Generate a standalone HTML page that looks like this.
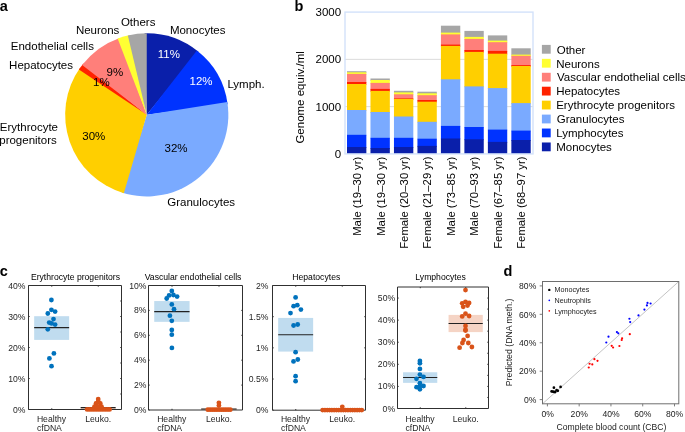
<!DOCTYPE html>
<html><head><meta charset="utf-8"><style>
html,body{margin:0;padding:0;background:#fff;}
body{width:685px;height:432px;overflow:hidden;}
svg{display:block;will-change:transform;font-family:"Liberation Sans", sans-serif;}
</style></head><body>
<svg width="685" height="432" viewBox="0 0 685 432" font-family='"Liberation Sans", sans-serif'>
<rect width="685" height="432" fill="#fff"/>
<text x="-0.30" y="10.50" font-size="14.5" fill="#000" font-weight="bold">a</text>
<text x="294.40" y="10.60" font-size="14.5" fill="#000" font-weight="bold">b</text>
<text x="-0.30" y="276.00" font-size="14.5" fill="#000" font-weight="bold">c</text>
<text x="503.50" y="276.00" font-size="14.5" fill="#000" font-weight="bold">d</text>
<path d="M146.75,114.85 L144.614,33.278 A81.6,81.6 0 0 1 198.544,51.795 Z" fill="#0a1faa"/>
<path d="M146.75,114.85 L196.876,50.461 A81.6,81.6 0 0 1 227.652,104.199 Z" fill="#0033ff"/>
<path d="M146.75,114.85 L227.345,102.085 A81.6,81.6 0 0 1 121.805,192.544 Z" fill="#7aaaff"/>
<path d="M146.75,114.85 L123.848,193.170 A81.6,81.6 0 0 1 80.071,67.813 Z" fill="#ffcf00"/>
<path d="M146.75,114.85 L78.863,69.575 A81.6,81.6 0 0 1 83.425,63.387 Z" fill="#ff2200"/>
<path d="M146.75,114.85 L82.099,65.062 A81.6,81.6 0 0 1 119.646,37.883 Z" fill="#ff7f7a"/>
<path d="M146.75,114.85 L117.640,38.619 A81.6,81.6 0 0 1 129.924,35.004 Z" fill="#ffff33"/>
<path d="M146.75,114.85 L127.839,35.471 A81.6,81.6 0 0 1 146.750,33.250 Z" fill="#a6a6a6"/>
<text x="120.90" y="25.85" font-size="11.5" fill="#000">Others</text>
<text x="75.90" y="33.80" font-size="11.5" fill="#000">Neurons</text>
<text x="169.90" y="34.30" font-size="11.5" fill="#000">Monocytes</text>
<text x="10.80" y="49.85" font-size="11.5" fill="#000">Endothelial cells</text>
<text x="9.10" y="68.80" font-size="11.5" fill="#000">Hepatocytes</text>
<text x="227.40" y="88.05" font-size="11.5" fill="#000">Lymph.</text>
<text x="-0.20" y="130.55" font-size="11.5" fill="#000">Erythrocyte</text>
<text x="-0.75" y="143.55" font-size="11.5" fill="#000">progenitors</text>
<text x="167.30" y="205.55" font-size="11.5" fill="#000">Granulocytes</text>
<text x="157.70" y="58.30" font-size="11.5" fill="#fff">11%</text>
<text x="189.50" y="85.10" font-size="11.5" fill="#fff">12%</text>
<text x="164.50" y="152.20" font-size="11.5" fill="#000">32%</text>
<text x="82.30" y="139.60" font-size="11.5" fill="#000">30%</text>
<text x="106.60" y="75.80" font-size="11.5" fill="#000">9%</text>
<text x="93.00" y="85.60" font-size="11.5" fill="#000">1%</text>
<line x1="345.0" x2="533.0" y1="106.63" y2="106.63" stroke="#dcdcdc" stroke-width="1"/>
<line x1="345.0" x2="533.0" y1="59.37" y2="59.37" stroke="#dcdcdc" stroke-width="1"/>
<rect x="347.00" y="71.20" width="19.35" height="1.90" fill="#a6a6a6"/>
<rect x="347.00" y="72.30" width="19.35" height="2.40" fill="#ffff33"/>
<rect x="347.00" y="73.90" width="19.35" height="8.90" fill="#ff7f7a"/>
<rect x="347.00" y="82.00" width="19.35" height="2.80" fill="#ff2200"/>
<rect x="347.00" y="84.00" width="19.35" height="26.80" fill="#ffcf00"/>
<rect x="347.00" y="110.00" width="19.35" height="25.60" fill="#7aaaff"/>
<rect x="347.00" y="134.80" width="19.35" height="13.00" fill="#0033ff"/>
<rect x="347.00" y="147.00" width="19.35" height="6.90" fill="#0a1faa"/>
<rect x="370.48" y="78.50" width="19.35" height="2.30" fill="#a6a6a6"/>
<rect x="370.48" y="80.00" width="19.35" height="3.70" fill="#ffff33"/>
<rect x="370.48" y="82.90" width="19.35" height="6.80" fill="#ff7f7a"/>
<rect x="370.48" y="88.90" width="19.35" height="2.80" fill="#ff2200"/>
<rect x="370.48" y="90.90" width="19.35" height="21.90" fill="#ffcf00"/>
<rect x="370.48" y="112.00" width="19.35" height="26.60" fill="#7aaaff"/>
<rect x="370.48" y="137.80" width="19.35" height="11.00" fill="#0033ff"/>
<rect x="370.48" y="148.00" width="19.35" height="5.90" fill="#0a1faa"/>
<rect x="393.96" y="90.80" width="19.35" height="2.40" fill="#a6a6a6"/>
<rect x="393.96" y="92.40" width="19.35" height="2.70" fill="#ffff33"/>
<rect x="393.96" y="94.30" width="19.35" height="4.90" fill="#ff7f7a"/>
<rect x="393.96" y="98.40" width="19.35" height="1.30" fill="#ff2200"/>
<rect x="393.96" y="98.90" width="19.35" height="18.40" fill="#ffcf00"/>
<rect x="393.96" y="116.50" width="19.35" height="22.10" fill="#7aaaff"/>
<rect x="393.96" y="137.80" width="19.35" height="10.00" fill="#0033ff"/>
<rect x="393.96" y="147.00" width="19.35" height="6.90" fill="#0a1faa"/>
<rect x="417.44" y="91.70" width="19.35" height="2.40" fill="#a6a6a6"/>
<rect x="417.44" y="93.30" width="19.35" height="2.70" fill="#ffff33"/>
<rect x="417.44" y="95.20" width="19.35" height="5.60" fill="#ff7f7a"/>
<rect x="417.44" y="100.00" width="19.35" height="2.50" fill="#ff2200"/>
<rect x="417.44" y="101.70" width="19.35" height="20.90" fill="#ffcf00"/>
<rect x="417.44" y="121.80" width="19.35" height="17.70" fill="#7aaaff"/>
<rect x="417.44" y="138.70" width="19.35" height="8.00" fill="#0033ff"/>
<rect x="417.44" y="145.90" width="19.35" height="8.00" fill="#0a1faa"/>
<rect x="440.92" y="25.70" width="19.35" height="7.70" fill="#a6a6a6"/>
<rect x="440.92" y="32.60" width="19.35" height="2.60" fill="#ffff33"/>
<rect x="440.92" y="34.40" width="19.35" height="11.00" fill="#ff7f7a"/>
<rect x="440.92" y="44.60" width="19.35" height="2.10" fill="#ff2200"/>
<rect x="440.92" y="45.90" width="19.35" height="34.20" fill="#ffcf00"/>
<rect x="440.92" y="79.30" width="19.35" height="47.40" fill="#7aaaff"/>
<rect x="440.92" y="125.90" width="19.35" height="13.40" fill="#0033ff"/>
<rect x="440.92" y="138.50" width="19.35" height="15.40" fill="#0a1faa"/>
<rect x="464.40" y="30.90" width="19.35" height="6.80" fill="#a6a6a6"/>
<rect x="464.40" y="36.90" width="19.35" height="2.80" fill="#ffff33"/>
<rect x="464.40" y="38.90" width="19.35" height="11.90" fill="#ff7f7a"/>
<rect x="464.40" y="50.00" width="19.35" height="2.70" fill="#ff2200"/>
<rect x="464.40" y="51.90" width="19.35" height="35.30" fill="#ffcf00"/>
<rect x="464.40" y="86.40" width="19.35" height="41.40" fill="#7aaaff"/>
<rect x="464.40" y="127.00" width="19.35" height="13.10" fill="#0033ff"/>
<rect x="464.40" y="139.30" width="19.35" height="14.60" fill="#0a1faa"/>
<rect x="487.88" y="35.40" width="19.35" height="6.00" fill="#a6a6a6"/>
<rect x="487.88" y="40.60" width="19.35" height="2.40" fill="#ffff33"/>
<rect x="487.88" y="42.20" width="19.35" height="9.50" fill="#ff7f7a"/>
<rect x="487.88" y="50.90" width="19.35" height="3.60" fill="#ff2200"/>
<rect x="487.88" y="53.70" width="19.35" height="35.20" fill="#ffcf00"/>
<rect x="487.88" y="88.10" width="19.35" height="42.30" fill="#7aaaff"/>
<rect x="487.88" y="129.60" width="19.35" height="13.10" fill="#0033ff"/>
<rect x="487.88" y="141.90" width="19.35" height="12.00" fill="#0a1faa"/>
<rect x="511.36" y="48.30" width="19.35" height="7.10" fill="#a6a6a6"/>
<rect x="511.36" y="54.60" width="19.35" height="2.00" fill="#ffff33"/>
<rect x="511.36" y="55.80" width="19.35" height="10.10" fill="#ff7f7a"/>
<rect x="511.36" y="65.10" width="19.35" height="1.70" fill="#ff2200"/>
<rect x="511.36" y="66.00" width="19.35" height="37.90" fill="#ffcf00"/>
<rect x="511.36" y="103.10" width="19.35" height="28.30" fill="#7aaaff"/>
<rect x="511.36" y="130.60" width="19.35" height="10.20" fill="#0033ff"/>
<rect x="511.36" y="140.00" width="19.35" height="13.90" fill="#0a1faa"/>
<rect x="345.0" y="12.1" width="188.0" height="141.8" fill="none" stroke="#d3e2fa" stroke-width="1.4"/>
<text x="334.80" y="157.90" font-size="11.5" fill="#000">0</text>
<text x="315.55" y="110.63" font-size="11.5" fill="#000">1000</text>
<text x="315.55" y="63.37" font-size="11.5" fill="#000">2000</text>
<text x="315.55" y="16.10" font-size="11.5" fill="#000">3000</text>
<text x="304.25" y="143.60" font-size="11.5" fill="#000" transform="rotate(-90 304.25 143.60)">Genome equiv./ml</text>
<text x="361.03" y="235.80" font-size="11.3" fill="#000" transform="rotate(-90 361.03 235.80)">Male (19–30 yr)</text>
<text x="384.51" y="235.80" font-size="11.3" fill="#000" transform="rotate(-90 384.51 235.80)">Male (19–30 yr)</text>
<text x="407.99" y="248.80" font-size="11.3" fill="#000" transform="rotate(-90 407.99 248.80)">Female (20–30 yr)</text>
<text x="431.47" y="248.80" font-size="11.3" fill="#000" transform="rotate(-90 431.47 248.80)">Female (21–29 yr)</text>
<text x="454.95" y="235.80" font-size="11.3" fill="#000" transform="rotate(-90 454.95 235.80)">Male (73–85 yr)</text>
<text x="478.43" y="235.80" font-size="11.3" fill="#000" transform="rotate(-90 478.43 235.80)">Male (70–93 yr)</text>
<text x="501.91" y="248.80" font-size="11.3" fill="#000" transform="rotate(-90 501.91 248.80)">Female (67–85 yr)</text>
<text x="525.38" y="248.80" font-size="11.3" fill="#000" transform="rotate(-90 525.38 248.80)">Female (68–97 yr)</text>
<rect x="541.9" y="44.90" width="8.8" height="8.8" fill="#a6a6a6"/>
<text x="556.70" y="53.60" font-size="11.5" fill="#000">Other</text>
<rect x="541.9" y="58.84" width="8.8" height="8.8" fill="#ffff33"/>
<text x="556.20" y="67.54" font-size="11.5" fill="#000">Neurons</text>
<rect x="541.9" y="72.78" width="8.8" height="8.8" fill="#ff7f7a"/>
<text x="556.95" y="81.48" font-size="11.5" fill="#000">Vascular endothelial cells</text>
<rect x="541.9" y="86.72" width="8.8" height="8.8" fill="#ff2200"/>
<text x="556.20" y="95.42" font-size="11.5" fill="#000">Hepatocytes</text>
<rect x="541.9" y="100.66" width="8.8" height="8.8" fill="#ffcf00"/>
<text x="556.20" y="109.36" font-size="11.5" fill="#000">Erythrocyte progenitors</text>
<rect x="541.9" y="114.60" width="8.8" height="8.8" fill="#7aaaff"/>
<text x="556.70" y="123.30" font-size="11.5" fill="#000">Granulocytes</text>
<rect x="541.9" y="128.54" width="8.8" height="8.8" fill="#0033ff"/>
<text x="556.20" y="137.24" font-size="11.5" fill="#000">Lymphocytes</text>
<rect x="541.9" y="142.48" width="8.8" height="8.8" fill="#0a1faa"/>
<text x="556.20" y="151.18" font-size="11.5" fill="#000">Monocytes</text>
<rect x="34.17" y="316.19" width="34.97" height="23.71" fill="#c0dcef"/>
<rect x="80.67" y="407.33" width="34.97" height="2.17" fill="#f5d4c5"/>
<line x1="34.17" x2="69.14" y1="327.66" y2="327.66" stroke="#222" stroke-width="1.1"/>
<line x1="80.67" x2="115.64" y1="407.64" y2="407.64" stroke="#222" stroke-width="1.1"/>
<path d="M28.5,285.5 H121.5 V409.5 H28.5 Z" fill="none" stroke="#303030" stroke-width="1.0"/>
<line x1="28.5" x2="29.7" y1="409.50" y2="409.50" stroke="#303030" stroke-width="1.0"/>
<text x="12.90" y="412.50" font-size="8.65" fill="#262626">0%</text>
<line x1="28.5" x2="29.7" y1="378.50" y2="378.50" stroke="#303030" stroke-width="1.0"/>
<text x="8.15" y="381.50" font-size="8.65" fill="#262626">10%</text>
<line x1="28.5" x2="29.7" y1="347.50" y2="347.50" stroke="#303030" stroke-width="1.0"/>
<text x="8.15" y="350.50" font-size="8.65" fill="#262626">20%</text>
<line x1="28.5" x2="29.7" y1="316.50" y2="316.50" stroke="#303030" stroke-width="1.0"/>
<text x="8.15" y="319.50" font-size="8.65" fill="#262626">30%</text>
<line x1="28.5" x2="29.7" y1="285.50" y2="285.50" stroke="#303030" stroke-width="1.0"/>
<text x="8.15" y="288.50" font-size="8.65" fill="#262626">40%</text>
<line x1="121.5" x2="120.3" y1="394.00" y2="394.00" stroke="#303030" stroke-width="1.0"/>
<line x1="121.5" x2="120.3" y1="378.50" y2="378.50" stroke="#303030" stroke-width="1.0"/>
<line x1="121.5" x2="120.3" y1="363.00" y2="363.00" stroke="#303030" stroke-width="1.0"/>
<line x1="121.5" x2="120.3" y1="347.50" y2="347.50" stroke="#303030" stroke-width="1.0"/>
<line x1="121.5" x2="120.3" y1="332.00" y2="332.00" stroke="#303030" stroke-width="1.0"/>
<line x1="121.5" x2="120.3" y1="316.50" y2="316.50" stroke="#303030" stroke-width="1.0"/>
<line x1="121.5" x2="120.3" y1="301.00" y2="301.00" stroke="#303030" stroke-width="1.0"/>
<line x1="51.75" x2="51.75" y1="409.5" y2="408.3" stroke="#303030" stroke-width="1.0"/>
<line x1="51.75" x2="51.75" y1="285.5" y2="286.7" stroke="#303030" stroke-width="1.0"/>
<line x1="98.25" x2="98.25" y1="409.5" y2="408.3" stroke="#303030" stroke-width="1.0"/>
<line x1="98.25" x2="98.25" y1="285.5" y2="286.7" stroke="#303030" stroke-width="1.0"/>
<circle cx="51.4" cy="300.0" r="2.4" fill="#0072bd"/>
<circle cx="51.4" cy="309.8" r="2.4" fill="#0072bd"/>
<circle cx="55.1" cy="311.6" r="2.4" fill="#0072bd"/>
<circle cx="47.8" cy="313.5" r="2.4" fill="#0072bd"/>
<circle cx="53.5" cy="319.1" r="2.4" fill="#0072bd"/>
<circle cx="49.2" cy="322.6" r="2.4" fill="#0072bd"/>
<circle cx="51.6" cy="323.4" r="2.4" fill="#0072bd"/>
<circle cx="55.1" cy="324.6" r="2.4" fill="#0072bd"/>
<circle cx="47.8" cy="329.3" r="2.4" fill="#0072bd"/>
<circle cx="53.9" cy="353.4" r="2.4" fill="#0072bd"/>
<circle cx="49.4" cy="358.4" r="2.4" fill="#0072bd"/>
<circle cx="51.5" cy="366.2" r="2.4" fill="#0072bd"/>
<circle cx="87.1" cy="409.4" r="2.4" fill="#d95319"/>
<circle cx="89.35" cy="409.4" r="2.4" fill="#d95319"/>
<circle cx="91.6" cy="409.4" r="2.4" fill="#d95319"/>
<circle cx="93.85" cy="409.4" r="2.4" fill="#d95319"/>
<circle cx="96.1" cy="409.4" r="2.4" fill="#d95319"/>
<circle cx="98.35" cy="409.4" r="2.4" fill="#d95319"/>
<circle cx="100.6" cy="409.4" r="2.4" fill="#d95319"/>
<circle cx="102.85" cy="409.4" r="2.4" fill="#d95319"/>
<circle cx="105.1" cy="409.4" r="2.4" fill="#d95319"/>
<circle cx="107.35" cy="409.4" r="2.4" fill="#d95319"/>
<circle cx="109.6" cy="409.4" r="2.4" fill="#d95319"/>
<circle cx="98.2" cy="399.1" r="2.4" fill="#d95319"/>
<circle cx="98.2" cy="401.3" r="2.4" fill="#d95319"/>
<circle cx="96.0" cy="403.4" r="2.4" fill="#d95319"/>
<circle cx="100.3" cy="403.4" r="2.4" fill="#d95319"/>
<circle cx="94.5" cy="406.6" r="2.4" fill="#d95319"/>
<circle cx="96.7" cy="406.6" r="2.4" fill="#d95319"/>
<circle cx="98.9" cy="406.6" r="2.4" fill="#d95319"/>
<circle cx="101.5" cy="406.6" r="2.4" fill="#d95319"/>
<text x="30.88" y="279.70" font-size="8.65" fill="#000">Erythrocyte progenitors</text>
<text x="36.90" y="421.70" font-size="8.65" fill="#262626">Healthy</text>
<text x="36.95" y="431.30" font-size="8.65" fill="#262626">cfDNA</text>
<text x="85.25" y="421.70" font-size="8.65" fill="#262626">Leuko.</text>
<rect x="154.23" y="301.06" width="35.34" height="20.79" fill="#c0dcef"/>
<rect x="201.23" y="408.51" width="35.34" height="1.49" fill="#f5d4c5"/>
<line x1="154.23" x2="189.58" y1="311.64" y2="311.64" stroke="#222" stroke-width="1.1"/>
<line x1="201.23" x2="236.58" y1="409.00" y2="409.00" stroke="#222" stroke-width="1.1"/>
<path d="M148.5,285.5 H242.5 V410.0 H148.5 Z" fill="none" stroke="#303030" stroke-width="1.0"/>
<line x1="148.5" x2="149.7" y1="410.00" y2="410.00" stroke="#303030" stroke-width="1.0"/>
<text x="133.90" y="413.00" font-size="8.65" fill="#262626">0%</text>
<line x1="148.5" x2="149.7" y1="385.10" y2="385.10" stroke="#303030" stroke-width="1.0"/>
<text x="133.90" y="388.10" font-size="8.65" fill="#262626">2%</text>
<line x1="148.5" x2="149.7" y1="360.20" y2="360.20" stroke="#303030" stroke-width="1.0"/>
<text x="133.90" y="363.20" font-size="8.65" fill="#262626">4%</text>
<line x1="148.5" x2="149.7" y1="335.30" y2="335.30" stroke="#303030" stroke-width="1.0"/>
<text x="133.90" y="338.30" font-size="8.65" fill="#262626">6%</text>
<line x1="148.5" x2="149.7" y1="310.40" y2="310.40" stroke="#303030" stroke-width="1.0"/>
<text x="133.90" y="313.40" font-size="8.65" fill="#262626">8%</text>
<line x1="148.5" x2="149.7" y1="285.50" y2="285.50" stroke="#303030" stroke-width="1.0"/>
<text x="129.15" y="288.50" font-size="8.65" fill="#262626">10%</text>
<line x1="242.5" x2="241.3" y1="385.10" y2="385.10" stroke="#303030" stroke-width="1.0"/>
<line x1="242.5" x2="241.3" y1="360.20" y2="360.20" stroke="#303030" stroke-width="1.0"/>
<line x1="242.5" x2="241.3" y1="335.30" y2="335.30" stroke="#303030" stroke-width="1.0"/>
<line x1="242.5" x2="241.3" y1="310.40" y2="310.40" stroke="#303030" stroke-width="1.0"/>
<line x1="172.00" x2="172.00" y1="410.0" y2="408.8" stroke="#303030" stroke-width="1.0"/>
<line x1="172.00" x2="172.00" y1="285.5" y2="286.7" stroke="#303030" stroke-width="1.0"/>
<line x1="219.00" x2="219.00" y1="410.0" y2="408.8" stroke="#303030" stroke-width="1.0"/>
<line x1="219.00" x2="219.00" y1="285.5" y2="286.7" stroke="#303030" stroke-width="1.0"/>
<circle cx="171.8" cy="290.9" r="2.4" fill="#0072bd"/>
<circle cx="169.1" cy="295.4" r="2.4" fill="#0072bd"/>
<circle cx="173.4" cy="295.0" r="2.4" fill="#0072bd"/>
<circle cx="177.1" cy="296.6" r="2.4" fill="#0072bd"/>
<circle cx="166.7" cy="298.5" r="2.4" fill="#0072bd"/>
<circle cx="171.8" cy="304.4" r="2.4" fill="#0072bd"/>
<circle cx="174.0" cy="309.2" r="2.4" fill="#0072bd"/>
<circle cx="169.9" cy="315.7" r="2.4" fill="#0072bd"/>
<circle cx="171.8" cy="320.8" r="2.4" fill="#0072bd"/>
<circle cx="171.8" cy="330.0" r="2.4" fill="#0072bd"/>
<circle cx="171.8" cy="334.7" r="2.4" fill="#0072bd"/>
<circle cx="171.9" cy="347.9" r="2.4" fill="#0072bd"/>
<circle cx="207.8" cy="409.7" r="2.4" fill="#d95319"/>
<circle cx="210.05" cy="409.7" r="2.4" fill="#d95319"/>
<circle cx="212.3" cy="409.7" r="2.4" fill="#d95319"/>
<circle cx="214.55" cy="409.7" r="2.4" fill="#d95319"/>
<circle cx="216.8" cy="409.7" r="2.4" fill="#d95319"/>
<circle cx="219.05" cy="409.7" r="2.4" fill="#d95319"/>
<circle cx="221.3" cy="409.7" r="2.4" fill="#d95319"/>
<circle cx="223.55" cy="409.7" r="2.4" fill="#d95319"/>
<circle cx="225.8" cy="409.7" r="2.4" fill="#d95319"/>
<circle cx="228.05" cy="409.7" r="2.4" fill="#d95319"/>
<circle cx="230.3" cy="409.7" r="2.4" fill="#d95319"/>
<circle cx="218.9" cy="402.8" r="2.4" fill="#d95319"/>
<circle cx="218.9" cy="405.6" r="2.4" fill="#d95319"/>
<text x="144.72" y="279.70" font-size="8.65" fill="#000">Vascular endothelial cells</text>
<text x="157.15" y="421.70" font-size="8.65" fill="#262626">Healthy</text>
<text x="157.20" y="431.30" font-size="8.65" fill="#262626">cfDNA</text>
<text x="206.00" y="421.70" font-size="8.65" fill="#262626">Leuko.</text>
<rect x="278.17" y="317.92" width="34.97" height="33.67" fill="#c0dcef"/>
<rect x="324.67" y="409.58" width="34.97" height="0.62" fill="#f5d4c5"/>
<line x1="278.17" x2="313.14" y1="334.76" y2="334.76" stroke="#222" stroke-width="1.1"/>
<line x1="324.67" x2="359.64" y1="409.89" y2="409.89" stroke="#222" stroke-width="1.1"/>
<path d="M272.5,285.5 H365.5 V410.2 H272.5 Z" fill="none" stroke="#303030" stroke-width="1.0"/>
<line x1="272.5" x2="273.7" y1="410.20" y2="410.20" stroke="#303030" stroke-width="1.0"/>
<text x="256.00" y="413.20" font-size="8.65" fill="#262626">0%</text>
<line x1="272.5" x2="273.7" y1="379.02" y2="379.02" stroke="#303030" stroke-width="1.0"/>
<text x="248.75" y="382.02" font-size="8.65" fill="#262626">0.5%</text>
<line x1="272.5" x2="273.7" y1="347.85" y2="347.85" stroke="#303030" stroke-width="1.0"/>
<text x="256.00" y="350.85" font-size="8.65" fill="#262626">1%</text>
<line x1="272.5" x2="273.7" y1="316.68" y2="316.68" stroke="#303030" stroke-width="1.0"/>
<text x="248.75" y="319.68" font-size="8.65" fill="#262626">1.5%</text>
<line x1="272.5" x2="273.7" y1="285.50" y2="285.50" stroke="#303030" stroke-width="1.0"/>
<text x="256.00" y="288.50" font-size="8.65" fill="#262626">2%</text>
<line x1="365.5" x2="364.3" y1="379.02" y2="379.02" stroke="#303030" stroke-width="1.0"/>
<line x1="365.5" x2="364.3" y1="347.85" y2="347.85" stroke="#303030" stroke-width="1.0"/>
<line x1="365.5" x2="364.3" y1="316.68" y2="316.68" stroke="#303030" stroke-width="1.0"/>
<line x1="295.75" x2="295.75" y1="410.2" y2="409.0" stroke="#303030" stroke-width="1.0"/>
<line x1="295.75" x2="295.75" y1="285.5" y2="286.7" stroke="#303030" stroke-width="1.0"/>
<line x1="342.25" x2="342.25" y1="410.2" y2="409.0" stroke="#303030" stroke-width="1.0"/>
<line x1="342.25" x2="342.25" y1="285.5" y2="286.7" stroke="#303030" stroke-width="1.0"/>
<circle cx="295.6" cy="297.4" r="2.4" fill="#0072bd"/>
<circle cx="293.6" cy="306.2" r="2.4" fill="#0072bd"/>
<circle cx="297.3" cy="305.2" r="2.4" fill="#0072bd"/>
<circle cx="300.9" cy="309.6" r="2.4" fill="#0072bd"/>
<circle cx="290.5" cy="313.1" r="2.4" fill="#0072bd"/>
<circle cx="293.6" cy="325.5" r="2.4" fill="#0072bd"/>
<circle cx="297.7" cy="324.5" r="2.4" fill="#0072bd"/>
<circle cx="295.6" cy="352.2" r="2.4" fill="#0072bd"/>
<circle cx="293.5" cy="361.4" r="2.4" fill="#0072bd"/>
<circle cx="297.8" cy="359.5" r="2.4" fill="#0072bd"/>
<circle cx="295.6" cy="376.2" r="2.4" fill="#0072bd"/>
<circle cx="295.6" cy="381.2" r="2.4" fill="#0072bd"/>
<circle cx="322.65" cy="410.1" r="2.4" fill="#d95319"/>
<circle cx="324.95" cy="410.1" r="2.4" fill="#d95319"/>
<circle cx="327.25" cy="410.1" r="2.4" fill="#d95319"/>
<circle cx="329.55" cy="410.1" r="2.4" fill="#d95319"/>
<circle cx="331.85" cy="410.1" r="2.4" fill="#d95319"/>
<circle cx="334.15" cy="410.1" r="2.4" fill="#d95319"/>
<circle cx="336.45" cy="410.1" r="2.4" fill="#d95319"/>
<circle cx="338.75" cy="410.1" r="2.4" fill="#d95319"/>
<circle cx="341.05" cy="410.1" r="2.4" fill="#d95319"/>
<circle cx="343.35" cy="410.1" r="2.4" fill="#d95319"/>
<circle cx="345.65" cy="410.1" r="2.4" fill="#d95319"/>
<circle cx="347.95" cy="410.1" r="2.4" fill="#d95319"/>
<circle cx="350.25" cy="410.1" r="2.4" fill="#d95319"/>
<circle cx="352.55" cy="410.1" r="2.4" fill="#d95319"/>
<circle cx="354.85" cy="410.1" r="2.4" fill="#d95319"/>
<circle cx="357.15" cy="410.1" r="2.4" fill="#d95319"/>
<circle cx="359.45" cy="410.1" r="2.4" fill="#d95319"/>
<circle cx="361.75" cy="410.1" r="2.4" fill="#d95319"/>
<circle cx="342.3" cy="406.8" r="2.4" fill="#d95319"/>
<text x="292.30" y="279.70" font-size="8.65" fill="#000">Hepatocytes</text>
<text x="280.90" y="421.70" font-size="8.65" fill="#262626">Healthy</text>
<text x="280.95" y="431.30" font-size="8.65" fill="#262626">cfDNA</text>
<text x="329.25" y="421.70" font-size="8.65" fill="#262626">Leuko.</text>
<rect x="403.05" y="372.27" width="34.22" height="10.60" fill="#c0dcef"/>
<rect x="448.55" y="314.90" width="34.22" height="17.21" fill="#f5d4c5"/>
<line x1="403.05" x2="437.27" y1="377.57" y2="377.57" stroke="#222" stroke-width="1.1"/>
<line x1="448.55" x2="482.77" y1="323.56" y2="323.56" stroke="#222" stroke-width="1.1"/>
<path d="M397.5,287.0 H488.5 V408.5 H397.5 Z" fill="none" stroke="#303030" stroke-width="1.0"/>
<line x1="397.5" x2="398.7" y1="408.50" y2="408.50" stroke="#303030" stroke-width="1.0"/>
<text x="382.60" y="411.50" font-size="8.65" fill="#262626">0%</text>
<line x1="397.5" x2="398.7" y1="386.41" y2="386.41" stroke="#303030" stroke-width="1.0"/>
<text x="377.85" y="389.41" font-size="8.65" fill="#262626">10%</text>
<line x1="397.5" x2="398.7" y1="364.32" y2="364.32" stroke="#303030" stroke-width="1.0"/>
<text x="377.85" y="367.32" font-size="8.65" fill="#262626">20%</text>
<line x1="397.5" x2="398.7" y1="342.23" y2="342.23" stroke="#303030" stroke-width="1.0"/>
<text x="377.85" y="345.23" font-size="8.65" fill="#262626">30%</text>
<line x1="397.5" x2="398.7" y1="320.14" y2="320.14" stroke="#303030" stroke-width="1.0"/>
<text x="377.85" y="323.14" font-size="8.65" fill="#262626">40%</text>
<line x1="397.5" x2="398.7" y1="298.05" y2="298.05" stroke="#303030" stroke-width="1.0"/>
<text x="377.85" y="301.05" font-size="8.65" fill="#262626">50%</text>
<line x1="488.5" x2="487.3" y1="397.45" y2="397.45" stroke="#303030" stroke-width="1.0"/>
<line x1="488.5" x2="487.3" y1="386.41" y2="386.41" stroke="#303030" stroke-width="1.0"/>
<line x1="488.5" x2="487.3" y1="375.36" y2="375.36" stroke="#303030" stroke-width="1.0"/>
<line x1="488.5" x2="487.3" y1="364.32" y2="364.32" stroke="#303030" stroke-width="1.0"/>
<line x1="488.5" x2="487.3" y1="353.27" y2="353.27" stroke="#303030" stroke-width="1.0"/>
<line x1="488.5" x2="487.3" y1="342.23" y2="342.23" stroke="#303030" stroke-width="1.0"/>
<line x1="488.5" x2="487.3" y1="331.18" y2="331.18" stroke="#303030" stroke-width="1.0"/>
<line x1="488.5" x2="487.3" y1="320.14" y2="320.14" stroke="#303030" stroke-width="1.0"/>
<line x1="488.5" x2="487.3" y1="309.09" y2="309.09" stroke="#303030" stroke-width="1.0"/>
<line x1="488.5" x2="487.3" y1="298.05" y2="298.05" stroke="#303030" stroke-width="1.0"/>
<line x1="420.25" x2="420.25" y1="408.5" y2="407.3" stroke="#303030" stroke-width="1.0"/>
<line x1="420.25" x2="420.25" y1="287.0" y2="288.2" stroke="#303030" stroke-width="1.0"/>
<line x1="465.75" x2="465.75" y1="408.5" y2="407.3" stroke="#303030" stroke-width="1.0"/>
<line x1="465.75" x2="465.75" y1="287.0" y2="288.2" stroke="#303030" stroke-width="1.0"/>
<circle cx="419.9" cy="361.0" r="2.4" fill="#0072bd"/>
<circle cx="419.9" cy="363.3" r="2.4" fill="#0072bd"/>
<circle cx="419.9" cy="368.9" r="2.4" fill="#0072bd"/>
<circle cx="419.9" cy="374.6" r="2.4" fill="#0072bd"/>
<circle cx="423.5" cy="376.9" r="2.4" fill="#0072bd"/>
<circle cx="416.5" cy="378.8" r="2.4" fill="#0072bd"/>
<circle cx="419.9" cy="383.2" r="2.4" fill="#0072bd"/>
<circle cx="423.5" cy="386.0" r="2.4" fill="#0072bd"/>
<circle cx="416.5" cy="387.2" r="2.4" fill="#0072bd"/>
<circle cx="419.9" cy="389.3" r="2.4" fill="#0072bd"/>
<circle cx="419.9" cy="386.3" r="2.4" fill="#0072bd"/>
<circle cx="465.5" cy="290.1" r="2.4" fill="#d95319"/>
<circle cx="462.2" cy="303.3" r="2.4" fill="#d95319"/>
<circle cx="465.5" cy="301.9" r="2.4" fill="#d95319"/>
<circle cx="469.1" cy="302.9" r="2.4" fill="#d95319"/>
<circle cx="463.2" cy="306.8" r="2.4" fill="#d95319"/>
<circle cx="467.5" cy="305.6" r="2.4" fill="#d95319"/>
<circle cx="465.5" cy="313.7" r="2.4" fill="#d95319"/>
<circle cx="462.2" cy="316.4" r="2.4" fill="#d95319"/>
<circle cx="469.1" cy="316.0" r="2.4" fill="#d95319"/>
<circle cx="465.5" cy="325.9" r="2.4" fill="#d95319"/>
<circle cx="465.5" cy="329.8" r="2.4" fill="#d95319"/>
<circle cx="465.5" cy="330.5" r="2.4" fill="#d95319"/>
<circle cx="467.6" cy="335.9" r="2.4" fill="#d95319"/>
<circle cx="463.6" cy="339.9" r="2.4" fill="#d95319"/>
<circle cx="468.3" cy="343.0" r="2.4" fill="#d95319"/>
<circle cx="462.4" cy="343.0" r="2.4" fill="#d95319"/>
<circle cx="459.6" cy="347.7" r="2.4" fill="#d95319"/>
<circle cx="471.9" cy="347.0" r="2.4" fill="#d95319"/>
<text x="415.35" y="279.70" font-size="8.65" fill="#000">Lymphocytes</text>
<text x="405.40" y="421.70" font-size="8.65" fill="#262626">Healthy</text>
<text x="405.45" y="431.30" font-size="8.65" fill="#262626">cfDNA</text>
<text x="452.75" y="421.70" font-size="8.65" fill="#262626">Leuko.</text>
<line x1="542.5" y1="403.8" x2="678.8" y2="281.5" stroke="#9a9a9a" stroke-width="0.6"/>
<rect x="542.5" y="281.5" width="136.29999999999995" height="122.30000000000001" fill="none" stroke="#6e6e6e" stroke-width="1.0"/>
<line x1="539.7" x2="542.5" y1="399.60" y2="399.60" stroke="#6e6e6e" stroke-width="0.9"/>
<text x="524.10" y="402.80" font-size="8.6" fill="#222">0%</text>
<line x1="547.40" x2="547.40" y1="403.8" y2="406.40000000000003" stroke="#6e6e6e" stroke-width="0.9"/>
<text x="541.48" y="416.80" font-size="8.6" fill="#222">0%</text>
<line x1="539.7" x2="542.5" y1="371.18" y2="371.18" stroke="#6e6e6e" stroke-width="0.9"/>
<text x="519.10" y="374.38" font-size="8.6" fill="#222">20%</text>
<line x1="579.17" x2="579.17" y1="403.8" y2="406.40000000000003" stroke="#6e6e6e" stroke-width="0.9"/>
<text x="570.62" y="416.80" font-size="8.6" fill="#222">20%</text>
<line x1="539.7" x2="542.5" y1="342.75" y2="342.75" stroke="#6e6e6e" stroke-width="0.9"/>
<text x="519.10" y="345.95" font-size="8.6" fill="#222">40%</text>
<line x1="610.95" x2="610.95" y1="403.8" y2="406.40000000000003" stroke="#6e6e6e" stroke-width="0.9"/>
<text x="602.53" y="416.80" font-size="8.6" fill="#222">40%</text>
<line x1="539.7" x2="542.5" y1="314.32" y2="314.32" stroke="#6e6e6e" stroke-width="0.9"/>
<text x="519.10" y="317.52" font-size="8.6" fill="#222">60%</text>
<line x1="642.73" x2="642.73" y1="403.8" y2="406.40000000000003" stroke="#6e6e6e" stroke-width="0.9"/>
<text x="634.18" y="416.80" font-size="8.6" fill="#222">60%</text>
<line x1="539.7" x2="542.5" y1="285.90" y2="285.90" stroke="#6e6e6e" stroke-width="0.9"/>
<text x="519.10" y="289.10" font-size="8.6" fill="#222">80%</text>
<line x1="674.50" x2="674.50" y1="403.8" y2="406.40000000000003" stroke="#6e6e6e" stroke-width="0.9"/>
<text x="665.95" y="416.80" font-size="8.6" fill="#222">80%</text>
<text x="556.50" y="429.55" font-size="8.6" fill="#222">Complete blood count (CBC)</text>
<text x="511.75" y="386.15" font-size="8.75" fill="#222" transform="rotate(-90 511.75 386.15)">Predicted (DNA meth.)</text>
<circle cx="549.3" cy="289.90" r="1.2" fill="#000"/>
<text x="554.50" y="292.35" font-size="7.2" fill="#222">Monocytes</text>
<circle cx="549.3" cy="300.35" r="0.85" fill="#0000ff"/>
<text x="554.50" y="303.05" font-size="7.2" fill="#222">Neutrophils</text>
<circle cx="549.3" cy="310.80" r="0.85" fill="#ff0000"/>
<text x="554.50" y="313.50" font-size="7.2" fill="#222">Lymphocytes</text>
<circle cx="553.9" cy="387.7" r="1.35" fill="#000"/>
<circle cx="560.6" cy="386.9" r="1.35" fill="#000"/>
<circle cx="551.6" cy="391.4" r="1.35" fill="#000"/>
<circle cx="552.8" cy="391.6" r="1.35" fill="#000"/>
<circle cx="554.1" cy="391.9" r="1.35" fill="#000"/>
<circle cx="555.2" cy="392.1" r="1.35" fill="#000"/>
<circle cx="556.6" cy="390.2" r="1.35" fill="#000"/>
<circle cx="557.8" cy="390.8" r="1.35" fill="#000"/>
<circle cx="608.5" cy="336.7" r="1.1" fill="#0000ff"/>
<circle cx="606.3" cy="342.5" r="1.1" fill="#0000ff"/>
<circle cx="616.9" cy="332.1" r="1.1" fill="#0000ff"/>
<circle cx="618.3" cy="333.3" r="1.1" fill="#0000ff"/>
<circle cx="629.4" cy="318.75" r="1.1" fill="#0000ff"/>
<circle cx="630.2" cy="322.1" r="1.1" fill="#0000ff"/>
<circle cx="638.5" cy="315.4" r="1.1" fill="#0000ff"/>
<circle cx="644.4" cy="309.6" r="1.1" fill="#0000ff"/>
<circle cx="646.9" cy="305.4" r="1.1" fill="#0000ff"/>
<circle cx="647.5" cy="302.9" r="1.1" fill="#0000ff"/>
<circle cx="650.6" cy="303.5" r="1.1" fill="#0000ff"/>
<circle cx="629.8" cy="334.2" r="1.1" fill="#ff0000"/>
<circle cx="622.1" cy="338.3" r="1.1" fill="#ff0000"/>
<circle cx="621.7" cy="340.0" r="1.1" fill="#ff0000"/>
<circle cx="619.4" cy="346.0" r="1.1" fill="#ff0000"/>
<circle cx="611.7" cy="345.8" r="1.1" fill="#ff0000"/>
<circle cx="613.1" cy="347.5" r="1.1" fill="#ff0000"/>
<circle cx="594.4" cy="359.2" r="1.1" fill="#ff0000"/>
<circle cx="597.5" cy="360.8" r="1.1" fill="#ff0000"/>
<circle cx="589.6" cy="363.75" r="1.1" fill="#ff0000"/>
<circle cx="592.3" cy="364.4" r="1.1" fill="#ff0000"/>
<circle cx="588.75" cy="367.5" r="1.1" fill="#ff0000"/>
</svg>
</body></html>
